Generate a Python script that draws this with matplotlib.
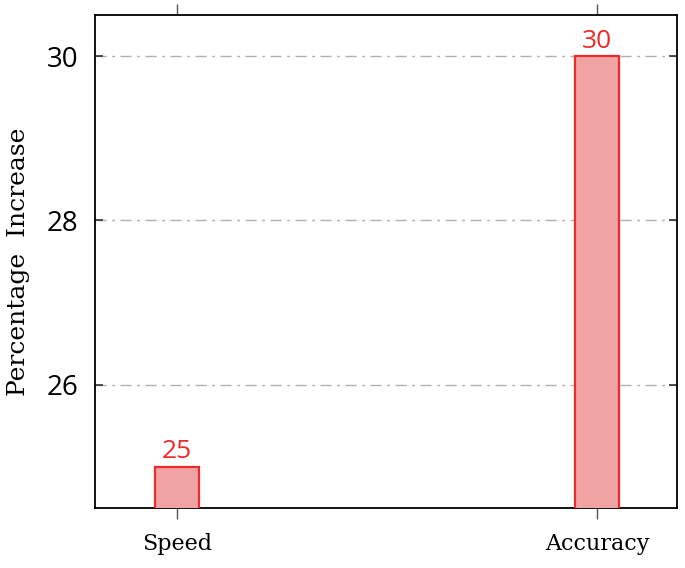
import matplotlib
matplotlib.use('Agg')
import matplotlib.pyplot as plt

# datos
categorias = ['Speed', 'Accuracy']
valores = [25, 30]
yticks = [26, 28, 30]

fig = plt.figure(figsize=(6.85, 5.68), dpi=100)
ax = fig.add_axes([0.1387, 0.1056, 0.8496, 0.868])

x = list(range(len(categorias)))
barras = ax.bar(x, valores, width=0.105, color='#EFA3A3', edgecolor='#F02A2A',
                linewidth=1.6, zorder=3)

for xi, v in zip(x, valores):
    ax.text(xi, v + 0.03, str(v), ha='center', va='bottom', color='#EE2A2A',
            fontsize=19, family='Open Sans')

ax.set_xlim(-0.195, 1.19)
ax.set_ylim(24.5, 30.5)
ax.set_yticks(yticks)
ax.set_yticklabels([str(t) for t in yticks], family='Open Sans', fontsize=20)
ax.set_xticks(x)
ax.set_xticklabels(categorias, family='DejaVu Serif', fontsize=16)
ax.set_ylabel('Percentage  Increase', family='DejaVu Serif', fontsize=18, labelpad=12)

ax.grid(axis='y', color='#B0B0B0', linestyle='-.', linewidth=1.0, dashes=(8, 4, 2, 4), zorder=0)
ax.tick_params(axis='y', direction='in', length=6, width=1.2, left=True, right=True,
               color='#333333', pad=12)
ax.tick_params(axis='x', direction='out', length=8, width=1.0, top=True, bottom=True,
               color='#555555', pad=10)
for s in ax.spines.values():
    s.set_linewidth(1.3)
    s.set_color('black')

fig.savefig('out.png', dpi=100)
